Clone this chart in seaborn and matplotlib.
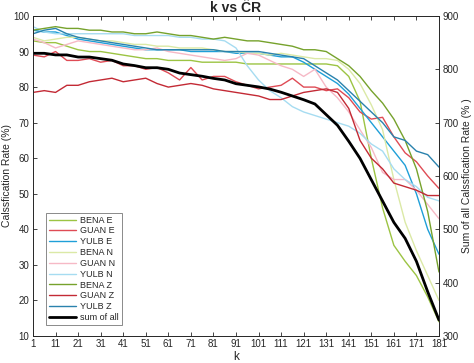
import numpy as np
import pandas as pd
import matplotlib
matplotlib.use("Agg")
import matplotlib.pyplot as plt
import seaborn as sns

# k values (sampled every 5)
k = list(range(1, 182, 5))

bena_e = [93, 92.5, 92.5, 91.5, 90.5, 90, 90, 89.5, 89, 88.5, 88, 88, 87.5, 87.5, 87.5, 87, 87, 87, 87,
          86.5, 86.5, 86.5, 86.5, 86.5, 86.5, 86.5, 86.5, 86, 83, 76, 60, 46, 35.5, 31, 27, 21, 14]
guan_e = [89, 88.5, 90, 87.5, 87.5, 88, 87, 87.5, 86, 86, 85, 85.5, 84, 82, 85.5, 82, 83, 83, 81.5,
          80.5, 79.5, 80, 80.5, 82.5, 80, 80, 79, 79.5, 77, 73, 71, 71.5, 66, 61.5, 59, 55, 51.5]
yulb_e = [96, 95.5, 95.5, 94.5, 93.5, 93, 92.5, 92, 91.5, 91, 90.5, 90.5, 90.5, 90.5, 90, 90, 90, 90, 89.5,
          89.5, 89.5, 89, 88.5, 88.5, 87, 85, 83, 81, 78, 74, 70, 66, 62, 58, 50, 40, 33]
bena_n = [94, 93, 93.5, 94, 94, 93.5, 93, 93, 92.5, 92, 92, 91.5, 91.5, 91, 91, 91, 90.5, 90, 90,
          89.5, 89.5, 89, 89.5, 89, 88.5, 88, 88, 87.5, 85, 81, 75, 68, 54, 42, 34, 27, 20]
guan_n = [93.5, 92.5, 91, 92, 93, 92.5, 92, 91.5, 91, 90.5, 90.5, 91, 90, 89.5, 89, 88.5, 88, 87.5, 88,
          89.5, 89, 87.5, 86, 85, 83, 85, 80, 77, 73, 68, 63, 56, 54, 54, 51, 47, 43]
yulb_n = [97, 95.5, 95, 95, 95, 95, 95, 95, 95, 94.5, 94.5, 94.5, 94.5, 94, 94, 93.5, 93.5, 93, 91,
          86, 82, 79, 77, 74.5, 73, 72, 71, 70, 69, 67, 64, 62, 57, 54, 52, 49, 48]
bena_z = [96, 96.5, 97, 96.5, 96.5, 96, 96, 95.5, 95.5, 95, 95, 95.5, 95, 94.5, 94.5, 94, 93.5, 94, 93.5,
          93, 93, 92.5, 92, 91.5, 90.5, 90.5, 90, 88, 86, 83, 79, 75.5, 71, 65, 57, 45, 28]
guan_z = [78.5, 79, 78.5, 80.5, 80.5, 81.5, 82, 82.5, 81.5, 82, 82.5, 81, 80, 80.5, 81, 80.5, 79.5, 79, 78.5,
          78, 77.5, 76.5, 76.5, 77.5, 78.5, 79, 79.5, 78.5, 74, 65, 60, 57, 53, 52, 51, 49.5, 49.5]
yulb_z = [95, 96, 96.5, 95, 94, 93.5, 93, 92.5, 92, 91.5, 91, 90.5, 90.5, 90.5, 90.5, 90.5, 90.5, 90, 90,
          90, 90, 89.5, 89, 88.5, 88, 86, 84, 82, 79, 76, 73, 70, 66, 65, 62, 61, 57.5]
# sum of all (right axis, %)
sum_all = [830, 830, 827, 827, 823, 823, 820, 817, 810, 807, 803, 803, 800, 793, 790, 787, 783, 780, 773,
           770, 767, 763, 757, 750, 743, 735, 715, 695, 665, 633, 593, 553, 513, 483, 440, 383, 330]

names = ["BENA E", "GUAN E", "YULB E", "BENA N", "GUAN N", "YULB N", "BENA Z", "GUAN Z", "YULB Z"]
series = [bena_e, guan_e, yulb_e, bena_n, guan_n, yulb_n, bena_z, guan_z, yulb_z]
colors = ["#9cc443", "#df4b55", "#1f9fd8", "#dbe9a6", "#f6b9c6", "#a6dcf1", "#76a22c", "#c32a35", "#2a82ad"]

df = pd.DataFrame({"k": k})
for n, s in zip(names, series):
    df[n] = s
long_df = df.melt(id_vars="k", var_name="series", value_name="rate")

sns.set_style("ticks")
plt.rcParams["font.family"] = ["Liberation Sans", "DejaVu Sans"]
plt.rcParams["xtick.direction"] = "in"
plt.rcParams["ytick.direction"] = "in"

fig = plt.figure(figsize=(4.74, 3.63), dpi=100)
ax = fig.add_axes([0.0696, 0.0744, 0.8565, 0.8816])

sns.lineplot(data=long_df, x="k", y="rate", hue="series", hue_order=names,
             palette=dict(zip(names, colors)), linewidth=1.0, ax=ax, legend=False)

ax2 = ax.twinx()
sns.lineplot(x=k, y=sum_all, color="black", linewidth=2.0, ax=ax2)

ax.set_xlim(1, 181)
ax.set_ylim(10, 100)
ax2.set_ylim(300, 900)
ax.set_xticks(range(1, 182, 10))
ax.set_yticks(range(10, 101, 10))
ax2.set_yticks(range(300, 901, 100))

for a in (ax, ax2):
    for sp in a.spines.values():
        sp.set_visible(True)
        sp.set_color("#262626")
        sp.set_linewidth(0.6)
    a.tick_params(labelsize=7, colors="#262626", length=3, width=0.6, pad=2.5)
ax.tick_params(top=True)

ax.set_xlabel("k", fontsize=8.5, labelpad=1)
ax.set_ylabel("Calssfication Rate (%)", fontsize=7.5)
ax.yaxis.set_label_coords(-0.052, 0.5)
ax2.set_ylabel("Sum of all Calssfication Rate (% )", fontsize=7.5)
ax2.yaxis.set_label_coords(1.056, 0.5)
ax.set_title("k vs \u0108R", fontsize=10, fontweight="bold", pad=3)

handles = [plt.Line2D([], [], color=c, lw=1.0) for c in colors]
handles.append(plt.Line2D([], [], color="black", lw=2.0))
leg = ax2.legend(handles, names + ["sum of all"], loc="lower left", bbox_to_anchor=(0.02, 0.02),
                 fontsize=6.5, frameon=True, fancybox=False, handlelength=3.0, labelspacing=0.2,
                 borderpad=0.35, handletextpad=0.5)
leg.get_frame().set_edgecolor("#555555")
leg.get_frame().set_linewidth(0.6)

fig.savefig("out.png", dpi=100)
